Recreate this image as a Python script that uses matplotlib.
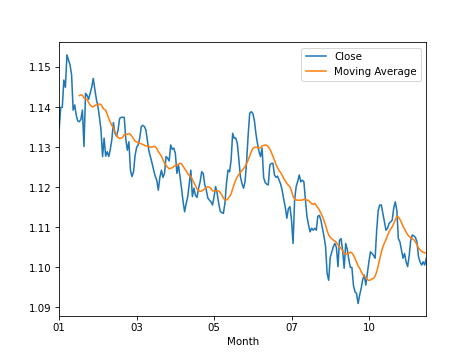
import numpy as np
import pandas as pd
import matplotlib
matplotlib.use("Agg")
import matplotlib.pyplot as plt

close = [
    1.1348, 1.1400, 1.1400, 1.1468, 1.1450, 1.1531, 1.1518, 1.1506, 1.1481, 1.1393,
    1.1406, 1.1380, 1.1366, 1.1364, 1.1370, 1.1393, 1.1302, 1.1435, 1.1430, 1.1420,
    1.1435, 1.1450, 1.1472, 1.1445, 1.1420, 1.1402, 1.1375, 1.1343, 1.1277, 1.1323,
    1.1278, 1.1289, 1.1277, 1.1295, 1.1320, 1.1362, 1.1335, 1.1328, 1.1343, 1.1372,
    1.1375, 1.1375, 1.1375, 1.1320, 1.1293, 1.1314, 1.1243, 1.1227, 1.1239, 1.1280,
    1.1300, 1.1306, 1.1323, 1.1352, 1.1355, 1.1352, 1.1343, 1.1315, 1.1290, 1.1275,
    1.1260, 1.1243, 1.1228, 1.1218, 1.1193, 1.1225, 1.1243, 1.1225, 1.1235, 1.1277,
    1.1273, 1.1266, 1.1306, 1.1295, 1.1298, 1.1285, 1.1235, 1.1256, 1.1227, 1.1198,
    1.1164, 1.1139, 1.1160, 1.1177, 1.1210, 1.1243, 1.1177, 1.1198, 1.1180, 1.1175,
    1.1198, 1.1214, 1.1239, 1.1235, 1.1206, 1.1193, 1.1173, 1.1168, 1.1164, 1.1156,
    1.1177, 1.1202, 1.1185, 1.1160, 1.1140, 1.1137, 1.1135, 1.1160, 1.1210, 1.1243,
    1.1239, 1.1268, 1.1335, 1.1323, 1.1323, 1.1310, 1.1270, 1.1227, 1.1210, 1.1198,
    1.1214, 1.1264, 1.1330, 1.1385, 1.1389, 1.1385, 1.1368, 1.1335, 1.1310, 1.1290,
    1.1277, 1.1298, 1.1225, 1.1212, 1.1208, 1.1206, 1.1256, 1.1260, 1.1260, 1.1231,
    1.1225, 1.1228, 1.1218, 1.1208, 1.1192, 1.1170, 1.1150, 1.1123, 1.1147, 1.1152,
    1.1118, 1.1060, 1.1168, 1.1202, 1.1215, 1.1231, 1.1214, 1.1218, 1.1214, 1.1168,
    1.1127, 1.1106, 1.1089, 1.1098, 1.1093, 1.1098, 1.1093, 1.1128, 1.1130, 1.1118,
    1.1098, 1.1077, 1.1052, 1.0985, 1.0968, 1.1025, 1.1039, 1.1052, 1.1060, 1.1050,
    1.1002, 1.1068, 1.1072, 1.1043, 1.0998, 1.1060, 1.1045, 1.1020, 1.1000, 1.1000,
    1.0955, 1.0939, 1.0935, 1.0910, 1.0931, 1.0948, 1.0970, 1.0981, 1.0956, 1.0985,
    1.1015, 1.1039, 1.1035, 1.1030, 1.1023, 1.1093, 1.1143, 1.1156, 1.1156, 1.1135,
    1.1114, 1.1093, 1.1098, 1.1110, 1.1114, 1.1118, 1.1148, 1.1164, 1.1143, 1.1072,
    1.1064, 1.1043, 1.1023, 1.1035, 1.1014, 1.1002, 1.1030, 1.1068, 1.1081, 1.1079,
    1.1075, 1.1064, 1.1027, 1.1014, 1.1006, 1.1014, 1.1006, 1.1023,
]
ma_window = 14
tick_labels = ["01", "03", "05", "07", "10"]
tick_step = 50

s = pd.Series(close)
ma = s.rolling(ma_window).mean()
x = np.arange(len(close))

fig, ax = plt.subplots(figsize=(6.4, 4.8), dpi=74)
ax.plot(x, s.values, color="#1f77b4", label="Close")
ax.plot(x, ma.values, color="#ff7f0e", label="Moving Average")
ax.set_xlim(0, len(close) - 1)
ticks = np.arange(0, len(close), tick_step)[:len(tick_labels)]
ax.set_xticks(ticks)
ax.set_xticklabels(tick_labels)
ax.set_xlabel("Month")
ax.legend(loc="upper right")
fig.savefig("out.png", dpi=74)
